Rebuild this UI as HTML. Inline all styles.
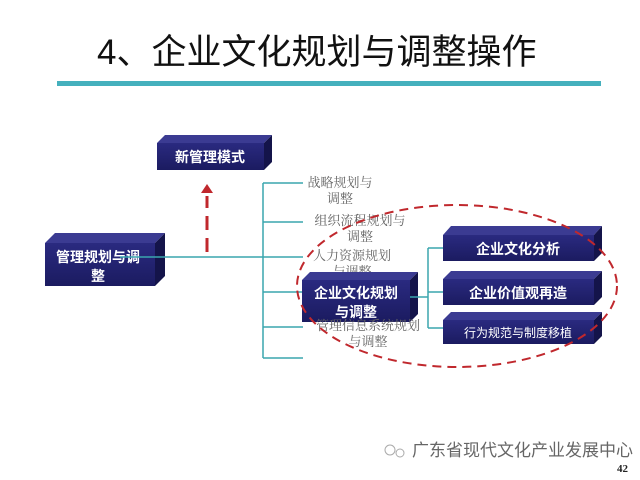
<!DOCTYPE html>
<html><head><meta charset="utf-8"><style>
html,body{margin:0;padding:0;background:#fff;width:640px;height:480px;overflow:hidden}
</style></head><body>
<svg width="640" height="480" viewBox="0 0 640 480" xmlns="http://www.w3.org/2000/svg" font-family="'Liberation Sans','Noto Sans CJK SC',sans-serif">
<rect width="640" height="480" fill="#fff"/>
<text x="97" y="64" font-size="35" fill="#111">4、企业文化规划与调整操作</text>
<rect x="57" y="81" width="544" height="5" fill="#45b0bd"/>

<defs>
<linearGradient id="g" x1="0" y1="0" x2="0" y2="1"><stop offset="0" stop-color="#2a2a80"/><stop offset="1" stop-color="#1b1b60"/></linearGradient>
</defs>

<g>
<polygon points="157,143 165,135 272,135 264,143" fill="#3b3b92"/>
<polygon points="264,143 272,135 272,162 264,170" fill="#14144a"/>
<rect x="157" y="143" width="107" height="27" fill="url(#g)"/>
<text x="210" y="162" font-size="14" font-weight="bold" fill="#fff" text-anchor="middle">新管理模式</text>
</g>
<g>
<polygon points="45,243 55,233 165,233 155,243" fill="#3b3b92"/>
<polygon points="155,243 165,233 165,276 155,286" fill="#14144a"/>
<rect x="45" y="243" width="110" height="43" fill="url(#g)"/>
<text x="98" y="262" font-size="14" font-weight="bold" fill="#fff" text-anchor="middle">管理规划与调</text>
<text x="98" y="281" font-size="14" font-weight="bold" fill="#fff" text-anchor="middle">整</text>
</g>

<line x1="207" y1="252" x2="207" y2="196" stroke="#c0282d" stroke-width="3" stroke-dasharray="14,8"/>
<polygon points="201,193 213,193 207,184" fill="#c0282d"/>

<g stroke="#3aa6ae" stroke-width="1.5" fill="none">
<line x1="120" y1="257" x2="263" y2="257"/>
<line x1="263" y1="183" x2="263" y2="358"/>
<line x1="263" y1="183" x2="303" y2="183"/>
<line x1="263" y1="222" x2="303" y2="222"/>
<line x1="263" y1="257" x2="303" y2="257"/>
<line x1="263" y1="292" x2="303" y2="292"/>
<line x1="263" y1="327" x2="303" y2="327"/>
<line x1="263" y1="358" x2="303" y2="358"/>
</g>

<g font-size="13" fill="#666" text-anchor="middle" font-family="'Liberation Serif','Noto Serif CJK SC',serif">
<text x="340" y="187">战略规划与</text><text x="340" y="203">调整</text>
<text x="360" y="225">组织流程规划与</text><text x="360" y="241">调整</text>
<text x="352" y="260">人力资源规划</text><text x="352" y="276">与调整</text>
</g>

<g>
<polygon points="302,280 310,272 418,272 410,280" fill="#3b3b92"/>
<polygon points="410,280 418,272 418,314 410,322" fill="#14144a"/>
<rect x="302" y="280" width="108" height="42" fill="url(#g)"/>
<text x="356" y="298" font-size="14" font-weight="bold" fill="#fff" text-anchor="middle">企业文化规划</text>
<text x="356" y="317" font-size="14" font-weight="bold" fill="#fff" text-anchor="middle">与调整</text>
</g>
<g font-size="13" fill="#666" text-anchor="middle" font-family="'Liberation Serif','Noto Serif CJK SC',serif">
<text x="368" y="330">管理信息系统规划</text><text x="368" y="346">与调整</text>
</g>

<g stroke="#3aa6ae" stroke-width="1.5" fill="none">
<line x1="410" y1="297" x2="428" y2="297"/>
<line x1="428" y1="248" x2="428" y2="328"/>
<line x1="428" y1="248" x2="445" y2="248"/>
<line x1="428" y1="292" x2="445" y2="292"/>
<line x1="428" y1="328" x2="445" y2="328"/>
</g>

<g>
<polygon points="443,235 451,226 602,226 594,235" fill="#3b3b92"/>
<polygon points="594,235 602,226 602,253 594,261" fill="#14144a"/>
<rect x="443" y="235" width="151" height="26" fill="url(#g)"/>
<text x="518" y="254" font-size="14" font-weight="bold" fill="#fff" text-anchor="middle">企业文化分析</text>
</g>
<g>
<polygon points="443,279 451,271 602,271 594,279" fill="#3b3b92"/>
<polygon points="594,279 602,271 602,297 594,305" fill="#14144a"/>
<rect x="443" y="279" width="151" height="26" fill="url(#g)"/>
<text x="518" y="298" font-size="14" font-weight="bold" fill="#fff" text-anchor="middle">企业价值观再造</text>
</g>
<g>
<polygon points="443,320 451,312 602,312 594,320" fill="#3b3b92"/>
<polygon points="594,320 602,312 602,336 594,344" fill="#14144a"/>
<rect x="443" y="320" width="151" height="24" fill="url(#g)"/>
<text x="518" y="337" font-size="12" fill="#fff" text-anchor="middle">行为规范与制度移植</text>
</g>

<ellipse cx="457" cy="286" rx="160" ry="81" fill="none" stroke="#c0282d" stroke-width="2" stroke-dasharray="9,6"/>

<g stroke="#aaa" fill="none" stroke-width="1">
<circle cx="390" cy="450" r="5"/><circle cx="400" cy="453" r="4"/>
</g>
<text x="412" y="456" font-size="17" fill="#666">广东省现代文化产业发展中心</text>
<text x="628" y="472" font-size="11" font-weight="bold" fill="#222" text-anchor="end" font-family="'Liberation Serif',serif">42</text>
</svg>
</body></html>
